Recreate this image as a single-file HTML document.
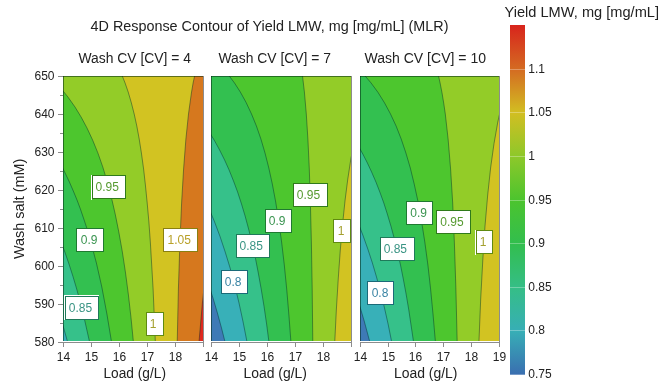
<!DOCTYPE html>
<html><head><meta charset="utf-8"><style>
html,body{margin:0;padding:0;background:#fff;}
svg{display:block;will-change:transform;}
.t13{font-family:"Liberation Sans",sans-serif;font-size:13.8px;fill:#222;}
.t12{font-family:"Liberation Sans",sans-serif;font-size:12px;fill:#222;}
</style></head><body>
<svg width="668" height="390" viewBox="0 0 668 390">
<text x="90.5" y="31" class="t13" textLength="358" lengthAdjust="spacingAndGlyphs">4D Response Contour of Yield LMW, mg [mg/mL] (MLR)</text><text x="78.5" y="62.5" class="t13" textLength="112.5" lengthAdjust="spacingAndGlyphs">Wash CV [CV] = 4</text><text x="218.5" y="62.5" class="t13" textLength="112.5" lengthAdjust="spacingAndGlyphs">Wash CV [CV] = 7</text><text x="364.5" y="62.5" class="t13" textLength="121.5" lengthAdjust="spacingAndGlyphs">Wash CV [CV] = 10</text><text x="103.5" y="378" class="t13" textLength="62.5" lengthAdjust="spacingAndGlyphs">Load (g/L)</text><text x="243.5" y="378" class="t13" textLength="63.5" lengthAdjust="spacingAndGlyphs">Load (g/L)</text><text x="394" y="378" class="t13" textLength="63.5" lengthAdjust="spacingAndGlyphs">Load (g/L)</text><text transform="translate(24.2,259) rotate(-90)" class="t13" textLength="100.3" lengthAdjust="spacingAndGlyphs">Wash salt (mM)</text><line x1="58" y1="76.5" x2="63" y2="76.5" stroke="#8c8c8c"/><text x="54.5" y="80.0" text-anchor="end" class="t12">650</text><line x1="60" y1="95.5" x2="63" y2="95.5" stroke="#8c8c8c"/><line x1="58" y1="114.5" x2="63" y2="114.5" stroke="#8c8c8c"/><text x="54.5" y="118.0" text-anchor="end" class="t12">640</text><line x1="60" y1="133.5" x2="63" y2="133.5" stroke="#8c8c8c"/><line x1="58" y1="152.5" x2="63" y2="152.5" stroke="#8c8c8c"/><text x="54.5" y="156.0" text-anchor="end" class="t12">630</text><line x1="60" y1="171.5" x2="63" y2="171.5" stroke="#8c8c8c"/><line x1="58" y1="190.5" x2="63" y2="190.5" stroke="#8c8c8c"/><text x="54.5" y="194.0" text-anchor="end" class="t12">620</text><line x1="60" y1="209.5" x2="63" y2="209.5" stroke="#8c8c8c"/><line x1="58" y1="228.5" x2="63" y2="228.5" stroke="#8c8c8c"/><text x="54.5" y="232.0" text-anchor="end" class="t12">610</text><line x1="60" y1="247.5" x2="63" y2="247.5" stroke="#8c8c8c"/><line x1="58" y1="266.5" x2="63" y2="266.5" stroke="#8c8c8c"/><text x="54.5" y="270.0" text-anchor="end" class="t12">600</text><line x1="60" y1="285.5" x2="63" y2="285.5" stroke="#8c8c8c"/><line x1="58" y1="304.5" x2="63" y2="304.5" stroke="#8c8c8c"/><text x="54.5" y="308.0" text-anchor="end" class="t12">590</text><line x1="60" y1="323.5" x2="63" y2="323.5" stroke="#8c8c8c"/><line x1="58" y1="342.5" x2="63" y2="342.5" stroke="#8c8c8c"/><text x="54.5" y="346.0" text-anchor="end" class="t12">580</text><clipPath id="c1"><rect x="63" y="76" width="141" height="265"/></clipPath><g clip-path="url(#c1)"><rect x="61" y="74" width="145" height="269" fill="#3E7AB6"/><path d="M61.0 74.0 206.0 74.0 206.0 343.0 61.0 343.0 61.0 74.0Z" fill="#38B0B8"/><path d="M61.0 74.0 206.0 74.0 206.0 343.0 67.9 343.0 61.0 318.8 61.0 74.0Z" fill="#36C18A"/><path d="M61.0 74.0 206.0 74.0 206.0 343.0 89.8 343.0 83.5 315.0 80.2 302.0 76.7 289.0 73.0 276.6 69.0 264.1 65.0 252.5 61.0 241.9 61.0 74.0Z" fill="#33C050"/><path d="M61.0 74.0 206.0 74.0 206.0 343.0 111.7 343.0 106.9 314.0 101.8 287.0 96.4 263.0 90.3 240.0 87.1 229.0 83.8 219.0 80.4 209.0 77.0 200.0 73.3 191.0 69.4 182.0 65.1 173.0 61.0 165.1 61.0 74.0Z" fill="#4DC62E"/><path d="M61.0 74.0 206.0 74.0 206.0 343.0 133.5 343.0 131.1 319.0 128.5 296.0 125.8 275.0 122.8 255.0 119.6 236.0 116.3 219.0 112.5 202.0 108.7 187.0 104.0 171.0 99.3 157.0 94.0 143.3 88.5 131.0 82.3 119.0 75.7 108.0 68.7 98.0 61.0 88.4 61.0 74.0Z" fill="#93CC28"/><path d="M121.5 74.0 206.0 74.0 206.0 343.0 155.4 343.0 153.1 289.0 150.4 243.0 148.9 222.0 147.2 203.0 145.4 185.0 143.6 169.0 141.4 153.0 139.2 139.0 136.8 126.0 134.2 114.0 131.4 103.0 128.2 92.0 125.0 82.8 121.5 74.0Z" fill="#D2C322"/><path d="M195.0 74.0 206.0 74.0 206.0 343.0 177.2 343.0 178.4 289.0 179.9 243.0 181.6 203.0 183.6 169.0 185.9 139.0 188.5 114.0 191.4 93.0 193.1 83.0 195.0 74.0Z" fill="#D6781E"/><path d="M206.0 269.0 206.0 343.0 198.9 343.0 202.3 304.0 206.0 269.0Z" fill="#E0281E"/><g fill="none" stroke="rgba(0,40,40,0.44)" stroke-width="1"><polyline points="67.9,343.0 61.0,318.8"/><polyline points="89.8,343.0 83.5,315.0 80.2,302.0 76.7,289.0 73.0,276.6 69.0,264.1 65.0,252.5 61.0,241.9"/><polyline points="111.7,343.0 106.9,314.0 101.8,287.0 96.4,263.0 90.3,240.0 87.1,229.0 83.8,219.0 80.4,209.0 77.0,200.0 73.3,191.0 69.4,182.0 65.1,173.0 61.0,165.1"/><polyline points="133.5,343.0 131.0,317.7 128.3,294.0 125.4,272.0 122.2,251.0 118.8,232.0 115.2,214.0 111.3,197.0 107.0,181.0 102.8,167.0 97.9,153.0 92.6,140.0 87.0,128.0 81.1,117.0 75.0,107.0 68.0,97.1 61.0,88.4"/><polyline points="155.4,343.0 153.1,289.0 150.4,243.0 148.9,222.0 147.2,203.0 145.4,185.0 143.6,169.0 141.4,153.0 139.2,139.0 136.8,126.0 134.2,114.0 131.4,103.0 128.2,92.0 125.0,82.8 121.5,74.0"/><polyline points="177.2,343.0 178.4,289.0 179.9,243.0 181.6,203.0 183.6,169.0 185.9,139.0 188.5,114.0 191.4,93.0 193.1,83.0 195.0,74.0"/><polyline points="198.9,343.0 202.3,304.0 206.0,268.9"/></g></g><line x1="63" y1="76.5" x2="204" y2="76.5" stroke="rgba(0,40,20,0.55)"/><line x1="63.5" y1="76" x2="63.5" y2="341" stroke="rgba(0,40,20,0.55)"/><line x1="203.5" y1="76" x2="203.5" y2="347" stroke="#8c8c8c"/><line x1="58" y1="342.5" x2="204" y2="342.5" stroke="#8c8c8c"/><line x1="63.5" y1="342" x2="63.5" y2="347" stroke="#8c8c8c"/><text x="63.5" y="361" text-anchor="middle" class="t12">14</text><line x1="91.5" y1="342" x2="91.5" y2="347" stroke="#8c8c8c"/><text x="91.5" y="361" text-anchor="middle" class="t12">15</text><line x1="119.5" y1="342" x2="119.5" y2="347" stroke="#8c8c8c"/><text x="119.5" y="361" text-anchor="middle" class="t12">16</text><line x1="147.5" y1="342" x2="147.5" y2="347" stroke="#8c8c8c"/><text x="147.5" y="361" text-anchor="middle" class="t12">17</text><line x1="175.5" y1="342" x2="175.5" y2="347" stroke="#8c8c8c"/><text x="175.5" y="361" text-anchor="middle" class="t12">18</text><rect x="92.5" y="175.5" width="33" height="23" fill="#fff" stroke="#2f7a1a"/><text x="95.55" y="190.8" class="t12" style="fill:#569a30">0.95</text><rect x="76.5" y="228.5" width="27" height="23" fill="#fff" stroke="#1f7a30"/><text x="80.75" y="243.8" class="t12" style="fill:#3a9450">0.9</text><rect x="65.5" y="296.5" width="33" height="23" fill="#fff" stroke="#1f7a5a"/><text x="68.75" y="311.8" class="t12" style="fill:#3a9484">0.85</text><rect x="163.5" y="228.5" width="34" height="23" fill="#fff" stroke="#8a8010"/><text x="167.55" y="243.8" class="t12" style="fill:#b8a028">1.05</text><rect x="146.5" y="312.5" width="17" height="23" fill="#fff" stroke="#5f8a10"/><text x="153.0" y="327.8" text-anchor="middle" class="t12" style="fill:#a4a030">1</text><clipPath id="c2"><rect x="211" y="76" width="141" height="265"/></clipPath><g clip-path="url(#c2)"><rect x="209" y="74" width="145" height="269" fill="#3E7AB6"/><path d="M209.0 74.0 354.0 74.0 354.0 343.0 225.3 343.0 221.5 328.0 217.4 313.0 213.3 299.0 209.0 285.8 209.0 74.0Z" fill="#38B0B8"/><path d="M209.0 74.0 354.0 74.0 354.0 343.0 247.2 343.0 243.1 322.0 239.0 303.0 234.7 285.0 230.1 268.0 225.2 252.0 220.0 236.4 214.6 222.0 209.0 208.6 209.0 74.0Z" fill="#36C18A"/><path d="M209.0 74.0 354.0 74.0 354.0 343.0 269.1 343.0 266.6 324.0 264.0 306.2 261.2 289.0 258.3 273.0 255.4 258.0 252.1 243.0 248.6 229.0 245.1 216.0 241.5 204.0 237.6 192.0 233.5 181.0 229.0 169.8 224.6 160.0 219.6 150.0 214.7 141.0 209.0 131.7 209.0 74.0Z" fill="#33C050"/><path d="M227.8 74.0 354.0 74.0 354.0 343.0 291.0 343.0 288.9 315.0 286.7 289.0 284.3 265.0 281.6 242.0 278.7 221.0 275.7 202.0 272.3 184.0 268.8 168.0 265.0 153.0 260.9 139.0 256.4 126.0 251.5 114.0 246.0 102.3 240.3 92.0 234.5 83.0 227.8 74.0Z" fill="#4DC62E"/><path d="M302.3 74.0 354.0 74.0 354.0 343.0 312.8 343.0 312.2 289.0 311.4 243.0 310.4 203.0 309.3 169.0 307.9 139.0 306.3 114.0 304.4 92.0 302.3 74.0Z" fill="#93CC28"/><path d="M353.8 143.0 354.0 142.1 354.0 343.0 334.7 343.0 336.3 310.0 338.2 279.0 340.2 251.0 342.5 225.0 345.0 201.3 347.7 180.0 350.6 161.0 353.8 143.0Z" fill="#D2C322"/><g fill="none" stroke="rgba(0,40,40,0.44)" stroke-width="1"><polyline points="225.3,343.0 221.5,328.0 217.4,313.0 213.3,299.0 209.0,285.8"/><polyline points="247.2,343.0 243.1,322.0 239.0,303.0 234.7,285.0 230.1,268.0 225.2,252.0 220.0,236.4 214.6,222.0 209.0,208.6"/><polyline points="269.1,343.0 266.6,324.0 264.0,306.2 261.2,289.0 258.3,273.0 255.4,258.0 252.1,243.0 248.6,229.0 245.1,216.0 241.5,204.0 237.6,192.0 233.5,181.0 229.0,169.8 224.6,160.0 219.6,150.0 214.7,141.0 209.0,131.7"/><polyline points="291.0,343.0 288.9,315.0 286.7,289.0 284.3,265.0 281.6,242.0 278.7,221.0 275.7,202.0 272.3,184.0 268.8,168.0 265.0,153.0 260.9,139.0 256.4,126.0 251.5,114.0 246.0,102.3 240.3,92.0 234.5,83.0 227.8,74.0"/><polyline points="312.8,343.0 312.2,289.0 311.4,243.0 310.4,203.0 309.3,169.0 307.9,139.0 306.3,114.0 304.4,92.0 302.3,74.0"/><polyline points="334.7,343.0 336.4,309.0 338.3,278.0 340.3,250.0 342.6,224.0 345.1,200.0 347.8,179.0 350.7,160.0 354.0,142.1"/></g></g><line x1="211" y1="76.5" x2="352" y2="76.5" stroke="rgba(0,40,20,0.55)"/><line x1="211.5" y1="76" x2="211.5" y2="341" stroke="rgba(0,40,20,0.55)"/><line x1="351.5" y1="76" x2="351.5" y2="347" stroke="#8c8c8c"/><line x1="211" y1="342.5" x2="352" y2="342.5" stroke="#8c8c8c"/><line x1="211.5" y1="342" x2="211.5" y2="347" stroke="#8c8c8c"/><text x="211.5" y="361" text-anchor="middle" class="t12">14</text><line x1="239.5" y1="342" x2="239.5" y2="347" stroke="#8c8c8c"/><text x="239.5" y="361" text-anchor="middle" class="t12">15</text><line x1="267.5" y1="342" x2="267.5" y2="347" stroke="#8c8c8c"/><text x="267.5" y="361" text-anchor="middle" class="t12">16</text><line x1="295.5" y1="342" x2="295.5" y2="347" stroke="#8c8c8c"/><text x="295.5" y="361" text-anchor="middle" class="t12">17</text><line x1="323.5" y1="342" x2="323.5" y2="347" stroke="#8c8c8c"/><text x="323.5" y="361" text-anchor="middle" class="t12">18</text><rect x="293.5" y="183.5" width="34" height="23" fill="#fff" stroke="#2f7a1a"/><text x="296.85" y="198.8" class="t12" style="fill:#569a30">0.95</text><rect x="265.5" y="209.5" width="26" height="23" fill="#fff" stroke="#1f7a30"/><text x="268.85" y="224.8" class="t12" style="fill:#3a9450">0.9</text><rect x="236.5" y="234.5" width="33" height="23" fill="#fff" stroke="#1f7a5a"/><text x="239.55" y="249.8" class="t12" style="fill:#3a9484">0.85</text><rect x="221.5" y="270.5" width="26" height="23" fill="#fff" stroke="#1a6a78"/><text x="224.85" y="285.8" class="t12" style="fill:#3a84a4">0.8</text><rect x="333.5" y="219.5" width="17" height="23" fill="#fff" stroke="#5f8a10"/><text x="341.1" y="234.8" text-anchor="middle" class="t12" style="fill:#a4a030">1</text><clipPath id="c3"><rect x="360" y="76" width="140" height="265"/></clipPath><g clip-path="url(#c3)"><rect x="358" y="74" width="144" height="269" fill="#3E7AB6"/><path d="M358.0 74.0 502.0 74.0 502.0 343.0 370.1 343.0 364.2 321.0 358.0 300.2 358.0 74.0Z" fill="#38B0B8"/><path d="M358.0 74.0 502.0 74.0 502.0 343.0 391.9 343.0 388.3 325.0 384.5 308.0 380.6 292.0 376.5 277.0 372.4 263.0 367.8 249.0 363.0 235.5 358.0 222.8 358.0 74.0Z" fill="#36C18A"/><path d="M358.0 74.0 502.0 74.0 502.0 343.0 413.7 343.0 408.8 310.0 406.1 294.0 403.3 279.0 400.5 265.0 397.6 252.0 394.4 239.0 391.0 226.4 387.3 214.0 383.8 203.0 380.0 192.5 376.0 182.2 371.6 172.0 367.4 163.0 362.8 154.0 358.0 145.6 358.0 74.0Z" fill="#33C050"/><path d="M363.4 74.0 502.0 74.0 502.0 343.0 435.5 343.0 433.1 315.0 430.6 289.0 427.9 265.0 424.8 242.0 421.5 221.0 418.1 202.0 414.2 184.0 410.3 168.0 405.9 153.0 401.2 139.0 396.1 126.0 390.5 114.0 384.6 103.0 378.0 92.4 371.0 82.9 363.4 74.0Z" fill="#4DC62E"/><path d="M438.1 74.0 502.0 74.0 502.0 343.0 457.2 343.0 455.9 289.0 454.4 243.0 452.7 203.0 450.6 169.0 448.1 139.0 445.3 114.0 443.7 103.0 442.0 92.8 440.1 83.0 438.1 74.0Z" fill="#93CC28"/><path d="M501.9 104.0 502.0 103.7 502.0 343.0 478.9 343.0 480.7 299.0 482.8 260.0 485.0 226.0 487.7 195.0 490.6 168.0 493.9 144.0 497.6 123.0 499.8 113.0 501.9 104.0Z" fill="#D2C322"/><path d="M501.9 329.0 502.0 328.2 502.0 343.0 500.6 343.0 501.9 329.0Z" fill="#D6781E"/><g fill="none" stroke="rgba(0,40,40,0.44)" stroke-width="1"><polyline points="370.1,343.0 364.2,321.0 358.0,300.2"/><polyline points="391.9,343.0 388.3,325.0 384.5,308.0 380.6,292.0 376.5,277.0 372.4,263.0 367.8,249.0 363.0,235.5 358.0,222.8"/><polyline points="413.7,343.0 408.8,310.0 406.1,294.0 403.3,279.0 400.5,265.0 397.6,252.0 394.4,239.0 391.0,226.4 387.3,214.0 383.8,203.0 380.0,192.5 376.0,182.2 371.6,172.0 367.4,163.0 362.8,154.0 358.0,145.6"/><polyline points="435.5,343.0 433.1,315.0 430.6,289.0 427.9,265.0 424.8,242.0 421.5,221.0 418.1,202.0 414.2,184.0 410.3,168.0 405.9,153.0 401.2,139.0 396.1,126.0 390.5,114.0 384.6,103.0 378.0,92.4 371.0,82.9 363.4,74.0"/><polyline points="457.2,343.0 455.9,289.0 454.4,243.0 452.7,203.0 450.6,169.0 448.1,139.0 445.3,114.0 443.7,103.0 442.0,92.8 440.1,83.0 438.1,74.0"/><polyline points="478.9,343.0 480.7,299.0 482.8,260.0 485.0,226.0 487.7,195.0 490.6,168.0 494.0,143.6 497.8,122.0 499.8,113.0 502.0,103.7"/><polyline points="500.6,343.0 502.0,328.2"/></g></g><line x1="360" y1="76.5" x2="500" y2="76.5" stroke="rgba(0,40,20,0.55)"/><line x1="360.5" y1="76" x2="360.5" y2="341" stroke="rgba(0,40,20,0.55)"/><line x1="499.5" y1="76" x2="499.5" y2="347" stroke="#8c8c8c"/><line x1="360" y1="342.5" x2="500" y2="342.5" stroke="#8c8c8c"/><line x1="360.5" y1="342" x2="360.5" y2="347" stroke="#8c8c8c"/><text x="360.5" y="361" text-anchor="middle" class="t12">14</text><line x1="388.5" y1="342" x2="388.5" y2="347" stroke="#8c8c8c"/><text x="388.5" y="361" text-anchor="middle" class="t12">15</text><line x1="415.5" y1="342" x2="415.5" y2="347" stroke="#8c8c8c"/><text x="415.5" y="361" text-anchor="middle" class="t12">16</text><line x1="443.5" y1="342" x2="443.5" y2="347" stroke="#8c8c8c"/><text x="443.5" y="361" text-anchor="middle" class="t12">17</text><line x1="471.5" y1="342" x2="471.5" y2="347" stroke="#8c8c8c"/><text x="471.5" y="361" text-anchor="middle" class="t12">18</text><line x1="499.5" y1="342" x2="499.5" y2="347" stroke="#8c8c8c"/><text x="499.5" y="361" text-anchor="middle" class="t12">19</text><rect x="406.5" y="201.5" width="26" height="23" fill="#fff" stroke="#1f7a30"/><text x="410.25" y="216.8" class="t12" style="fill:#3a9450">0.9</text><rect x="436.5" y="210.5" width="34" height="23" fill="#fff" stroke="#2f7a1a"/><text x="440.25" y="225.8" class="t12" style="fill:#569a30">0.95</text><rect x="476.5" y="230.5" width="16" height="23" fill="#fff" stroke="#5f8a10"/><text x="483.0" y="245.8" text-anchor="middle" class="t12" style="fill:#a4a030">1</text><rect x="380.5" y="237.5" width="34" height="23" fill="#fff" stroke="#1f7a5a"/><text x="383.65" y="252.8" class="t12" style="fill:#3a9484">0.85</text><rect x="367.5" y="281.5" width="26" height="23" fill="#fff" stroke="#1a6a78"/><text x="371.65" y="296.8" class="t12" style="fill:#3a84a4">0.8</text><linearGradient id="cb" x1="0" y1="0" x2="0" y2="1"><stop offset="0" stop-color="#D8241C"/><stop offset="0.125" stop-color="#D46A22"/><stop offset="0.25" stop-color="#D2BE22"/><stop offset="0.375" stop-color="#8EC82A"/><stop offset="0.5" stop-color="#4CC42E"/><stop offset="0.625" stop-color="#32BE4E"/><stop offset="0.75" stop-color="#35BE86"/><stop offset="0.875" stop-color="#37AEB6"/><stop offset="1" stop-color="#3A6EB0"/></linearGradient><rect x="91" y="175" width="1" height="25" fill="#fff"/><rect x="64" y="295" width="35" height="1" fill="#fff"/><rect x="64" y="295" width="1" height="25" fill="#fff"/><rect x="475" y="230" width="1" height="25" fill="#fff"/><rect x="510" y="25" width="15" height="350" fill="url(#cb)"/><line x1="510" y1="69.5" x2="525" y2="69.5" stroke="rgba(255,255,255,0.3)"/><line x1="510" y1="112.5" x2="525" y2="112.5" stroke="rgba(255,255,255,0.3)"/><line x1="510" y1="156.5" x2="525" y2="156.5" stroke="rgba(255,255,255,0.3)"/><line x1="510" y1="200.5" x2="525" y2="200.5" stroke="rgba(255,255,255,0.3)"/><line x1="510" y1="243.5" x2="525" y2="243.5" stroke="rgba(255,255,255,0.3)"/><line x1="510" y1="287.5" x2="525" y2="287.5" stroke="rgba(255,255,255,0.3)"/><line x1="510" y1="330.5" x2="525" y2="330.5" stroke="rgba(255,255,255,0.3)"/><line x1="510" y1="374.5" x2="525" y2="374.5" stroke="rgba(255,255,255,0.3)"/><text x="528.3" y="72.6" class="t12">1.1</text><text x="528.3" y="116.2" class="t12">1.05</text><text x="528.3" y="159.9" class="t12">1</text><text x="528.3" y="203.5" class="t12">0.95</text><text x="528.3" y="247.1" class="t12">0.9</text><text x="528.3" y="290.8" class="t12">0.85</text><text x="528.3" y="334.4" class="t12">0.8</text><text x="528.3" y="378.0" class="t12">0.75</text><text x="504.5" y="16.5" class="t13" textLength="154.5" lengthAdjust="spacingAndGlyphs">Yield LMW, mg [mg/mL]</text>
</svg></body></html>
